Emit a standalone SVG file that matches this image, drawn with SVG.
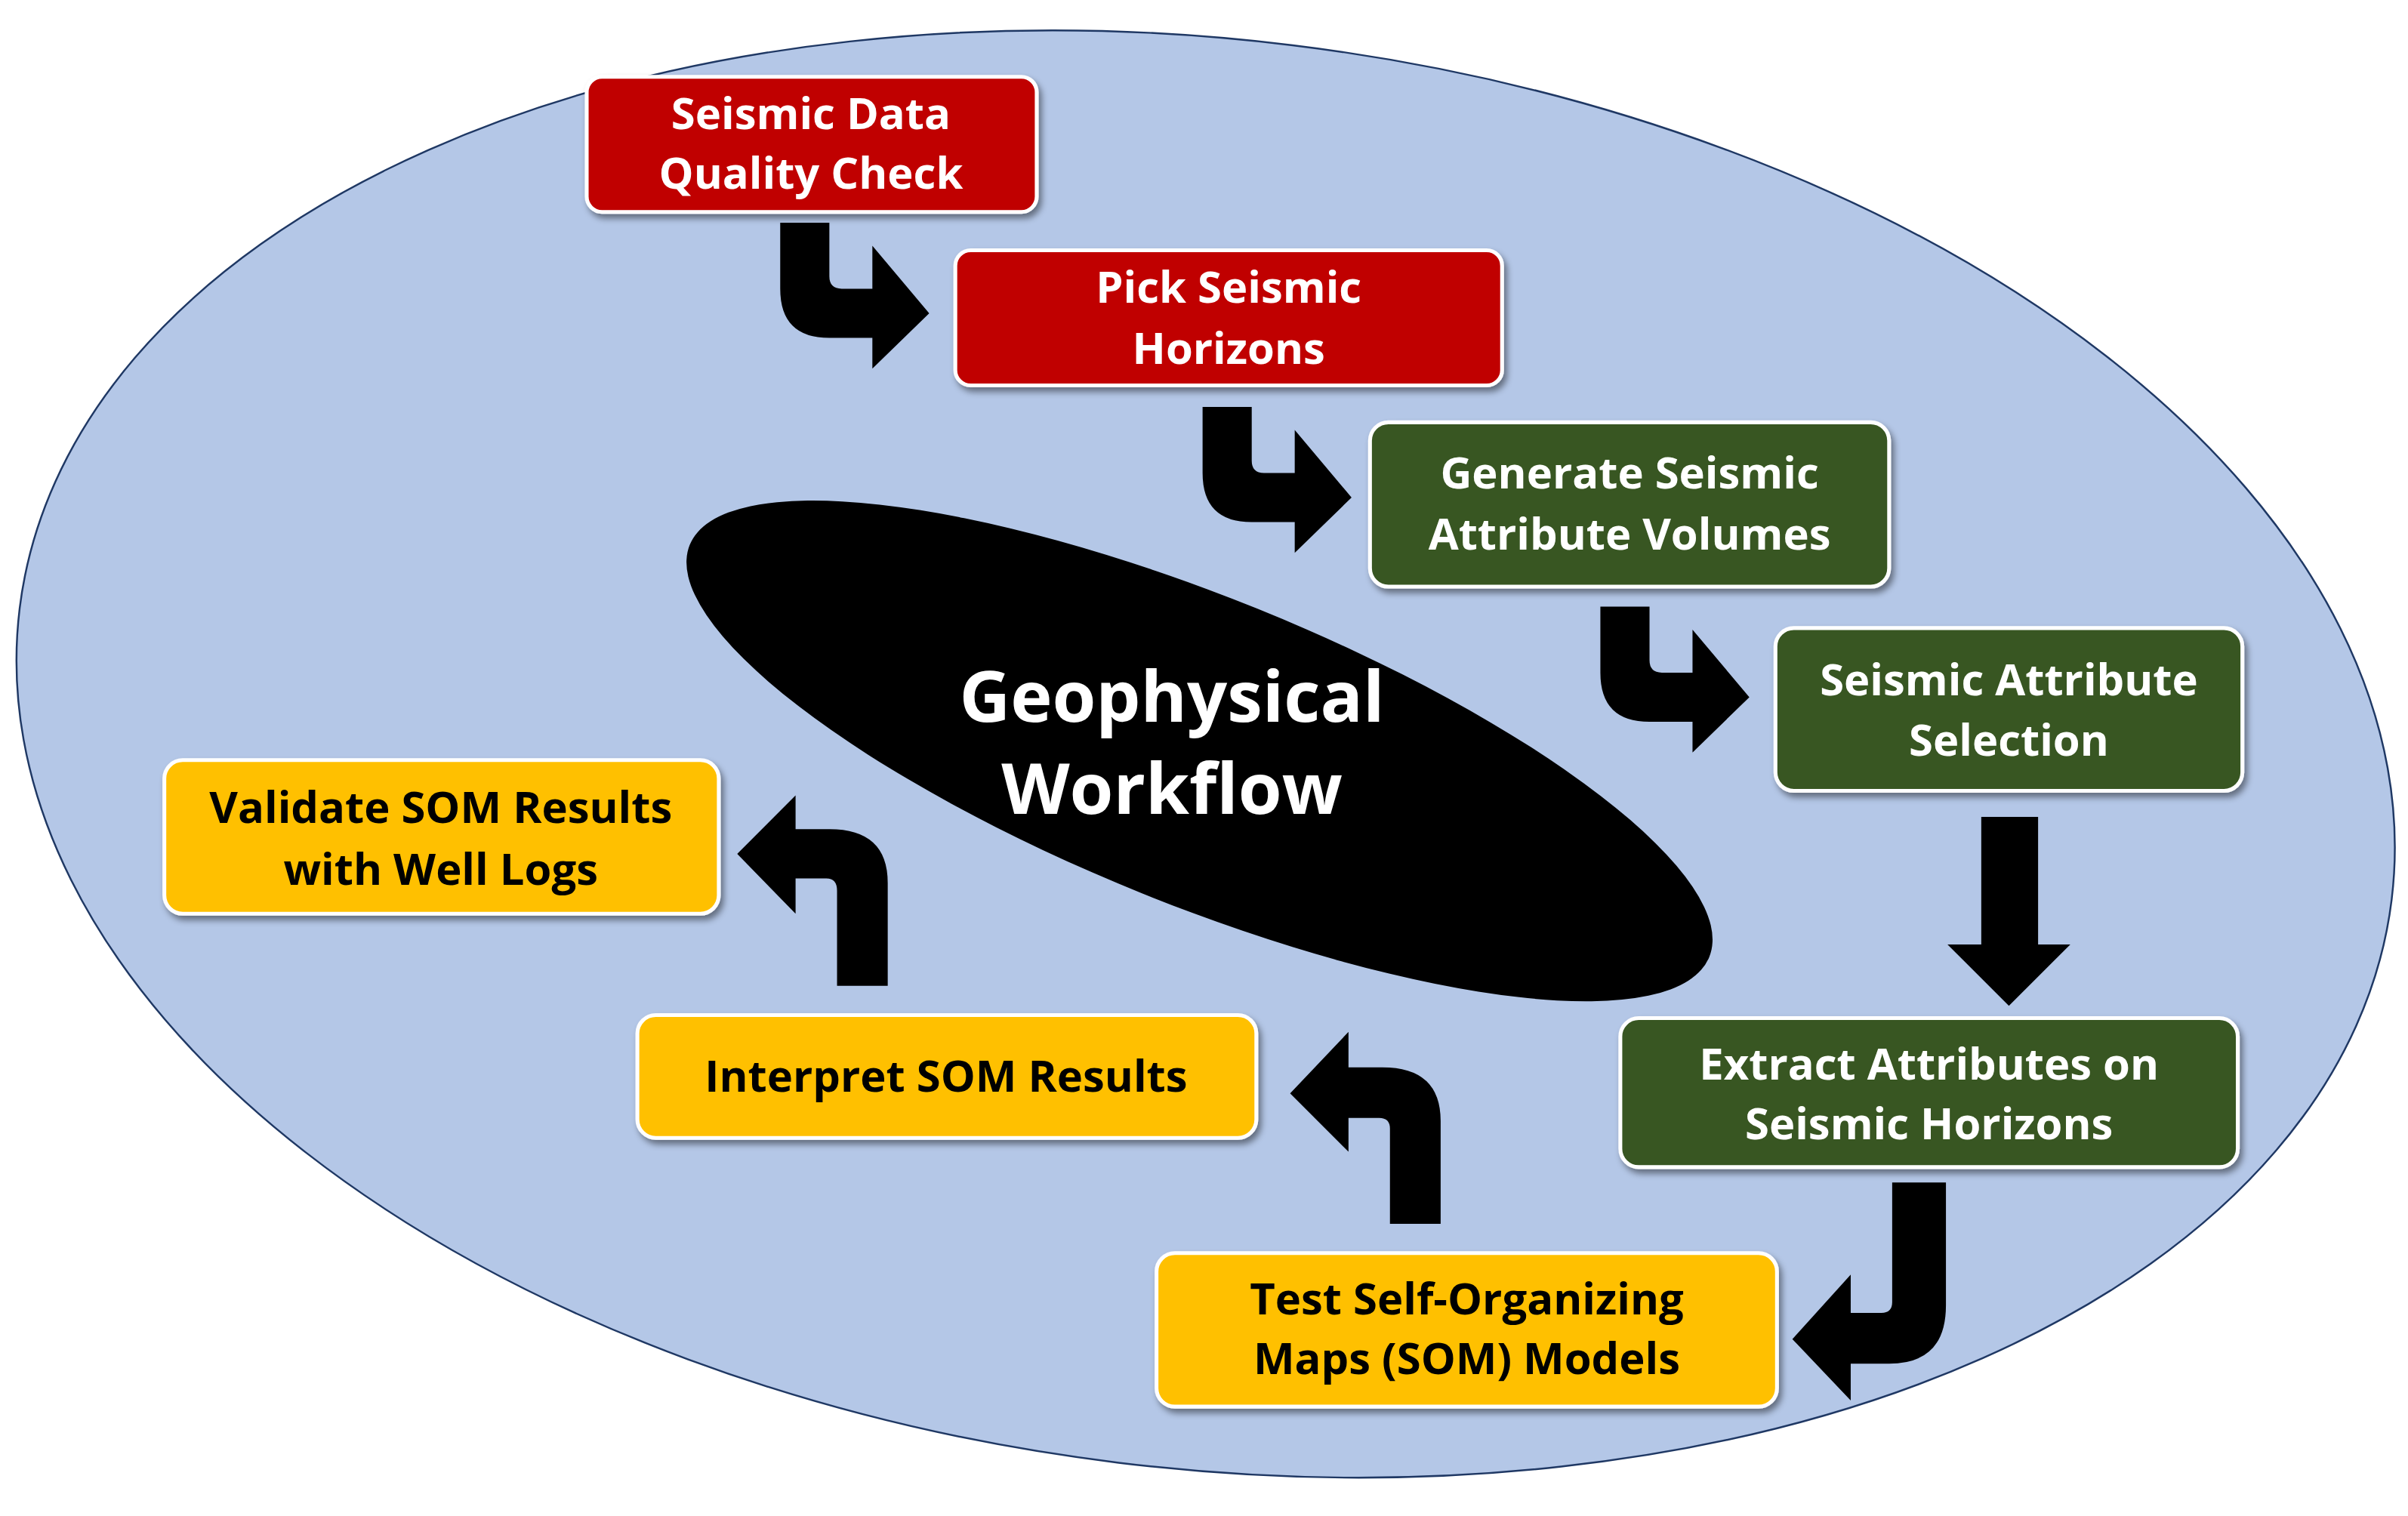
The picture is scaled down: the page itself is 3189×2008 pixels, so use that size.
<svg xmlns="http://www.w3.org/2000/svg" width="3189" height="2008" viewBox="0 0 3189 2008">
<defs>
<style>
.bx{stroke:#fff;stroke-width:2.5}
.red{fill:#C00000}.grn{fill:#375623}.yel{fill:#FFC000}
.t{font-family:"Open Sans","Liberation Sans",sans-serif;font-weight:bold;font-size:28.5px;text-anchor:middle}
.w{fill:#fff}.k{fill:#000}
.ar{fill:#000}
</style>
<filter id="sh" x="-10%" y="-10%" width="130%" height="140%"><feDropShadow dx="2" dy="3" stdDeviation="2" flood-color="#000" flood-opacity="0.45"/></filter>
</defs>
<rect width="3189" height="2008" fill="#fff"/>
<g transform="scale(2.034)">
<ellipse cx="785" cy="491" rx="778" ry="465" fill="#B4C7E7" stroke="#1F3864" stroke-width="1.2" transform="rotate(7 785 491)"/>
<g id="center"><ellipse cx="781" cy="489" rx="358" ry="100" transform="rotate(22 781 489)" fill="#000"/>
<text class="t w" x="763" y="470" style="font-size:46px">Geophysical</text>
<text class="t w" x="763" y="530" style="font-size:46px">Workflow</text></g>
<g id="connectors" class="ar">
<path d="M508,145 H540 V180 Q540,188 548,188 H568 V160 L605,204 L568,240 V220 H540 Q508,220 508,188 Z"/>
<path transform="translate(275,120)" d="M508,145 H540 V180 Q540,188 548,188 H568 V160 L605,204 L568,240 V220 H540 Q508,220 508,188 Z"/>
<path transform="translate(534,250)" d="M508,145 H540 V180 Q540,188 548,188 H568 V160 L605,204 L568,240 V220 H540 Q508,220 508,188 Z"/>
<path d="M1290,532 H1327 V615 H1348 L1308,655 L1268,615 H1290 Z"/>
<path d="M1232,770 H1267 V850 Q1267,888 1230,888 H1205 V912 L1167,872 L1205,830 V855 H1225 Q1232,855 1232,848 Z"/>
<path d="M905,797 H938 V730 Q938,695 900,695 H878 V672 L840,712 L878,750 V728 H898 Q905,728 905,735 Z"/>
<path d="M545,642 H578 V575 Q578,540 540,540 H518 V518 L480,556 L518,595 V572 H538 Q545,572 545,580 Z"/>
</g>
<g id="n1"><rect class="bx red" filter="url(#sh)" x="382" y="50" width="293" height="88" rx="10"/><text class="t w" x="528" y="84">Seismic Data</text><text class="t w" x="528" y="123">Quality Check</text></g>
<g id="n2"><rect class="bx red" filter="url(#sh)" x="622" y="163" width="356" height="88" rx="10"/><text class="t w" x="800" y="197">Pick Seismic</text><text class="t w" x="800" y="237">Horizons</text></g>
<g id="n3"><rect class="bx grn" filter="url(#sh)" x="892" y="275" width="338" height="107" rx="12"/><text class="t w" x="1061" y="318">Generate Seismic</text><text class="t w" x="1061" y="358">Attribute Volumes</text></g>
<g id="n4"><rect class="bx grn" filter="url(#sh)" x="1156" y="409" width="304" height="106" rx="12"/><text class="t w" x="1308" y="453">Seismic Attribute</text><text class="t w" x="1308" y="492">Selection</text></g>
<g id="n5"><rect class="bx grn" filter="url(#sh)" x="1055" y="663" width="402" height="97" rx="12"/><text class="t w" x="1256" y="703">Extract Attributes on</text><text class="t w" x="1256" y="742">Seismic Horizons</text></g>
<g id="n6"><rect class="bx yel" filter="url(#sh)" x="753" y="816" width="404" height="100" rx="12"/><text class="t k" x="955" y="856">Test Self-Organizing</text><text class="t k" x="955" y="895">Maps (SOM) Models</text></g>
<g id="n7"><rect class="bx yel" filter="url(#sh)" x="415" y="661" width="403" height="80" rx="12"/><text class="t k" x="616" y="711">Interpret SOM Results</text></g>
<g id="n8"><rect class="bx yel" filter="url(#sh)" x="107" y="495" width="361" height="100" rx="12"/><text class="t k" x="287" y="536">Validate SOM Results</text><text class="t k" x="287" y="576">with Well Logs</text></g>
</g>
</svg>
